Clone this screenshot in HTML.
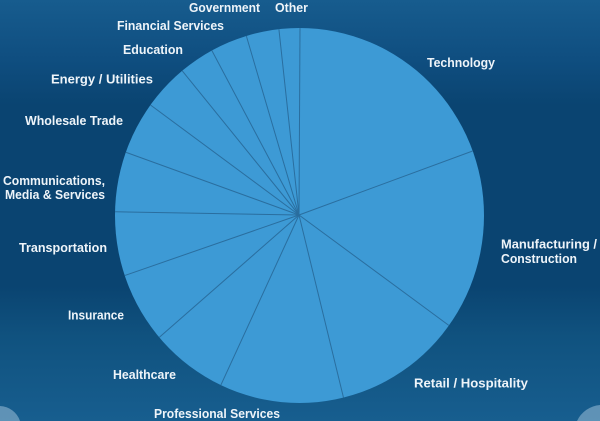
<!DOCTYPE html>
<html>
<head>
<meta charset="utf-8">
<style>
html,body{margin:0;padding:0;width:600px;height:421px;overflow:hidden;background:#0a4371;}
svg{display:block;overflow:hidden;}
text{font-family:"Liberation Sans",sans-serif;font-weight:bold;font-size:12.5px;fill:#eef4f9;}
</style>
</head>
<body>
<svg width="600" height="421" viewBox="0 0 600 421" xmlns="http://www.w3.org/2000/svg">
<defs>
<linearGradient id="bg" x1="0" y1="0" x2="0" y2="1">
<stop offset="0" stop-color="#175c8e"/>
<stop offset="0.14" stop-color="#0f4e80"/>
<stop offset="0.25" stop-color="#0a4471"/>
<stop offset="0.68" stop-color="#0a4471"/>
<stop offset="0.80" stop-color="#10527f"/>
<stop offset="1" stop-color="#175e8f"/>
</linearGradient>
<clipPath id="pc"><ellipse cx="299.5" cy="215.5" rx="184.5" ry="187.5"/></clipPath>
<clipPath id="frame"><rect x="0" y="0" width="600" height="421"/></clipPath>
</defs>
<g clip-path="url(#frame)">
<rect x="0" y="0" width="600" height="421" fill="url(#bg)"/>
<path d="M0 406 A22 22 0 0 1 20 421 L0 421 Z" fill="#7fa9c8" opacity="0.7"/>
<path d="M600 405 A28 28 0 0 0 577 421 L600 421 Z" fill="#7fa9c8" opacity="0.7"/>
<ellipse cx="299.5" cy="215.5" rx="184.5" ry="187.5" fill="#3d9ad5"/>
<g clip-path="url(#pc)" stroke="#2a6e9f" stroke-width="1" fill="none">
<line x1="299" y1="215" x2="300.1" y2="9"/>
<line x1="299" y1="215" x2="491.6" y2="144"/>
<line x1="299" y1="215" x2="463.2" y2="336"/>
<line x1="299" y1="215" x2="347.7" y2="414.9"/>
<line x1="299" y1="215" x2="214" y2="400"/>
<line x1="299" y1="215" x2="146.1" y2="348.9"/>
<line x1="299" y1="215" x2="108.7" y2="281.1"/>
<line x1="299" y1="215" x2="95" y2="211.4"/>
<line x1="299" y1="215" x2="109.9" y2="146.5"/>
<line x1="299" y1="215" x2="137" y2="95"/>
<line x1="299" y1="215" x2="171.8" y2="57.9"/>
<line x1="299" y1="215" x2="204.7" y2="37"/>
<line x1="299" y1="215" x2="242.1" y2="21.5"/>
<line x1="299" y1="215" x2="277.3" y2="14.3"/>
</g>
<text x="189" y="12" textLength="71" lengthAdjust="spacingAndGlyphs">Government</text>
<text x="275" y="12" textLength="33" lengthAdjust="spacingAndGlyphs">Other</text>
<text x="117" y="30" textLength="107" lengthAdjust="spacingAndGlyphs">Financial Services</text>
<text x="123" y="54" textLength="60" lengthAdjust="spacingAndGlyphs">Education</text>
<text x="51" y="83.5" textLength="102" lengthAdjust="spacingAndGlyphs">Energy / Utilities</text>
<text x="25" y="125" textLength="98" lengthAdjust="spacingAndGlyphs">Wholesale Trade</text>
<text x="3" y="185" textLength="102" lengthAdjust="spacingAndGlyphs">Communications,</text>
<text x="5" y="199" textLength="100" lengthAdjust="spacingAndGlyphs">Media &amp; Services</text>
<text x="19" y="252" textLength="88" lengthAdjust="spacingAndGlyphs">Transportation</text>
<text x="68" y="319.5" textLength="56" lengthAdjust="spacingAndGlyphs">Insurance</text>
<text x="113" y="379" textLength="63" lengthAdjust="spacingAndGlyphs">Healthcare</text>
<text x="154" y="418" textLength="126" lengthAdjust="spacingAndGlyphs">Professional Services</text>
<text x="427" y="67" textLength="68" lengthAdjust="spacingAndGlyphs">Technology</text>
<text x="501" y="248.5" textLength="96" lengthAdjust="spacingAndGlyphs">Manufacturing /</text>
<text x="501" y="263" textLength="76" lengthAdjust="spacingAndGlyphs">Construction</text>
<text x="414" y="387.5" textLength="114" lengthAdjust="spacingAndGlyphs">Retail / Hospitality</text>
</g>
</svg>
</body>
</html>
